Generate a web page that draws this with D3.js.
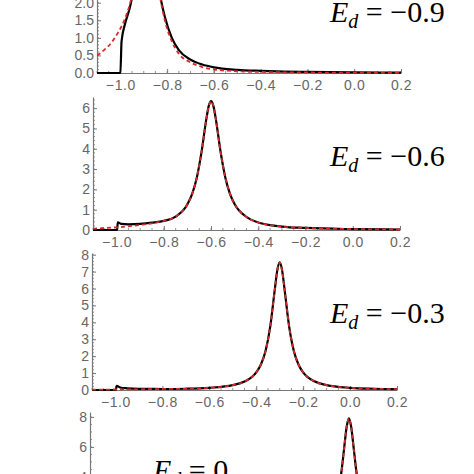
<!DOCTYPE html>
<html><head><meta charset="utf-8">
<script src="https://cdn.jsdelivr.net/npm/d3@7"></script>
<style>body{margin:0;background:#fff}svg{display:block}</style>
</head><body><div id="chart"></div>
<script>
// ---- data ----
const labels = ["\u22120.9", "\u22120.6", "\u22120.3", "0"];
const xTicks = [-1.0, -0.8, -0.6, -0.4, -0.2, 0.0, 0.2];

const black1 = [[-1.1,0],[-1.0,0],[-0.995,0.9],[-0.98,1.4],[-0.96,1.85],[-0.94,2.5],[-0.92,3.3],[-0.9,4.0],[-0.885,4.2],[-0.87,3.9],[-0.85,3.0],[-0.83,2.2],[-0.81,1.6],[-0.78,1.0],[-0.75,0.65],[-0.7,0.38],[-0.65,0.24],[-0.6,0.16],[-0.5,0.09],[-0.4,0.06],[-0.3,0.04],[-0.2,0.03],[0,0.015],[0.2,0.01]];
const red1 = [[-1.1,0.5],[-1.07,0.65],[-1.04,0.85],[-1.01,1.15],[-0.98,1.55],[-0.96,1.95],[-0.94,2.5],[-0.92,3.3],[-0.9,4.0],[-0.885,4.2],[-0.87,3.9],[-0.85,3.0],[-0.83,2.15],[-0.81,1.5],[-0.78,0.9],[-0.75,0.55],[-0.7,0.3],[-0.65,0.17],[-0.6,0.1],[-0.5,0.05],[-0.4,0.03],[-0.2,0.015],[0.2,0.005]];

const black2 = [[-1.1,0],[-0.998,0],[-0.995,0.38],[-0.98,0.3],[-0.95,0.28],[-0.9,0.3],[-0.85,0.36],[-0.8,0.45],[-0.75,0.66],[-0.7,1.27],[-0.68,1.78],[-0.66,2.6],[-0.64,3.87],[-0.62,5.47],[-0.61,6.1],[-0.6,6.35],[-0.59,6.1],[-0.58,5.47],[-0.56,3.87],[-0.54,2.6],[-0.52,1.78],[-0.5,1.27],[-0.45,0.64],[-0.4,0.37],[-0.3,0.17],[-0.2,0.1],[0,0.044],[0.2,0.025]];
const red2 = [[-1.1,0.06],[-1.05,0.1],[-1.0,0.13],[-0.95,0.18],[-0.9,0.25],[-0.85,0.33],[-0.8,0.45],[-0.75,0.66],[-0.7,1.27],[-0.68,1.78],[-0.66,2.6],[-0.64,3.87],[-0.62,5.47],[-0.61,6.1],[-0.6,6.35],[-0.59,6.1],[-0.58,5.47],[-0.56,3.87],[-0.54,2.6],[-0.52,1.78],[-0.5,1.27],[-0.45,0.64],[-0.4,0.37],[-0.3,0.17],[-0.2,0.1],[0,0.044],[0.2,0.025]];

const black3 = [[-1.1,0],[-0.998,0],[-0.995,0.25],[-0.98,0.15],[-0.95,0.1],[-0.9,0.07],[-0.8,0.06],[-0.7,0.075],[-0.6,0.13],[-0.5,0.29],[-0.45,0.5],[-0.4,1.04],[-0.38,1.51],[-0.36,2.32],[-0.34,3.78],[-0.32,6.04],[-0.31,7.1],[-0.3,7.55],[-0.29,7.1],[-0.28,6.04],[-0.26,3.78],[-0.24,2.32],[-0.22,1.51],[-0.2,1.04],[-0.15,0.5],[-0.1,0.29],[0,0.13],[0.1,0.075],[0.2,0.048]];
const red3 = [[-1.1,0.02],[-1.0,0.03],[-0.9,0.04],[-0.8,0.06],[-0.7,0.075],[-0.6,0.13],[-0.5,0.29],[-0.45,0.5],[-0.4,1.04],[-0.38,1.51],[-0.36,2.32],[-0.34,3.78],[-0.32,6.04],[-0.31,7.1],[-0.3,7.55],[-0.29,7.1],[-0.28,6.04],[-0.26,3.78],[-0.24,2.32],[-0.22,1.51],[-0.2,1.04],[-0.15,0.5],[-0.1,0.29],[0,0.13],[0.1,0.075],[0.2,0.048]];

const black4 = [[-1.1,0],[-0.2,0.25],[-0.1,0.86],[-0.06,1.98],[-0.04,3.45],[-0.03,4.57],[-0.02,5.96],[-0.01,7.3],[0,7.9],[0.01,7.3],[0.02,5.96],[0.03,4.57],[0.04,3.45],[0.06,1.98],[0.1,0.86],[0.2,0.25]];
const red4 = black4.map(d => d.slice());

// ---- layout ----
const panels = [
  {left: 97, right: 401, y0: 73,  top: -50, yMax: 3.5,  yTicks: [0,0.5,1,1.5,2], fmt: ".1f", minor: 0.1, black: black1, red: red1, lx: 330, ly: 22, xl: true},
  {left: 93, right: 400, y0: 230, top: 97,  yMax: 6.55, yTicks: [0,1,2,3,4,5,6], fmt: "d", minor: 0.2, black: black2, red: red2, lx: 330, ly: 166, xl: true},
  {left: 92, right: 397, y0: 390, top: 253, yMax: 8.1,  yTicks: [0,1,2,3,4,5,6,7,8], fmt: "d", minor: 0.2, black: black3, red: red3, lx: 330, ly: 323, xl: true},
  {left: 90, right: 396, y0: 537, top: 412, yMax: 8.33, yTicks: [0,2,4,6,8], fmt: "d", minor: 0.5, black: black4, red: red4, lx: 153, ly: 480, xl: false}
];

const W = 474, H = 474, gray = "#777", tickFont = "Liberation Sans, Arial, sans-serif";
const svg = d3.select("#chart").append("svg").attr("width", W).attr("height", H);

panels.forEach((p, i) => {
  const x = d3.scaleLinear().domain([-1.1, 0.2]).range([p.left, p.right]);
  const y = d3.scaleLinear().domain([0, p.yMax]).range([p.y0, p.top]);
  const g = svg.append("g");

  const clipId = "clip" + i;
  g.append("clipPath").attr("id", clipId).append("rect")
    .attr("x", p.left).attr("y", p.top).attr("width", p.right - p.left).attr("height", p.y0 - p.top + 1);

  // minor ticks
  const xMinor = d3.range(-1.1, 0.2001, 0.05);
  g.selectAll(".xm").data(xMinor).join("line")
    .attr("x1", d => x(d)).attr("x2", d => x(d)).attr("y1", p.y0).attr("y2", p.y0 - 2)
    .attr("stroke", gray).attr("stroke-width", 0.8);
  const yMinor = d3.range(0, p.yMax, p.minor);
  g.selectAll(".ym").data(yMinor).join("line")
    .attr("x1", p.left).attr("x2", p.left + 2).attr("y1", d => y(d)).attr("y2", d => y(d))
    .attr("stroke", gray).attr("stroke-width", 0.8);

  const xAxis = g.append("g").attr("transform", `translate(0,${p.y0})`)
    .call(d3.axisBottom(x).tickValues(xTicks).tickSizeInner(-4).tickSizeOuter(0).tickPadding(7)
      .tickFormat(d => d3.format(".1f")(d).replace("-", "\u2212")));
  const yAxis = g.append("g").attr("transform", `translate(${p.left},0)`)
    .call(d3.axisLeft(y).tickValues(p.yTicks).tickSizeInner(-4).tickSizeOuter(0).tickPadding(3)
      .tickFormat(d3.format(p.fmt)));
  [xAxis, yAxis].forEach(a => {
    a.select(".domain").attr("stroke", gray).attr("stroke-width", 1.2);
    a.selectAll(".tick line").attr("stroke", gray);
    a.selectAll("text").attr("fill", "#666").style("font-family", tickFont).style("font-size", "14px");
  });
  xAxis.selectAll("text").style("letter-spacing", "0.6px");
  if (!p.xl) xAxis.selectAll("text").remove();

  const line = d3.line().x(d => x(d[0])).y(d => y(d[1])).curve(d3.curveMonotoneX);
  const plot = g.append("g").attr("clip-path", `url(#${clipId})`);
  plot.append("path").datum(p.black).attr("d", line)
    .attr("fill", "none").attr("stroke", "#000").attr("stroke-width", 2.2);
  plot.append("path").datum(p.red).attr("d", line)
    .attr("fill", "none").attr("stroke", "#d42a2a").attr("stroke-width", 1.8).attr("stroke-dasharray", "4,3");

  const t = svg.append("text").attr("x", p.lx).attr("y", p.ly)
    .style("font-family", "Liberation Serif, serif").style("font-size", "30px").attr("fill", "#000");
  t.append("tspan").style("font-style", "italic").text("E");
  t.append("tspan").style("font-style", "italic").style("font-size", "20px").attr("dy", 6).text("d");
  t.append("tspan").attr("dy", -6).text(" = " + labels[i]);
});
</script></body></html>
